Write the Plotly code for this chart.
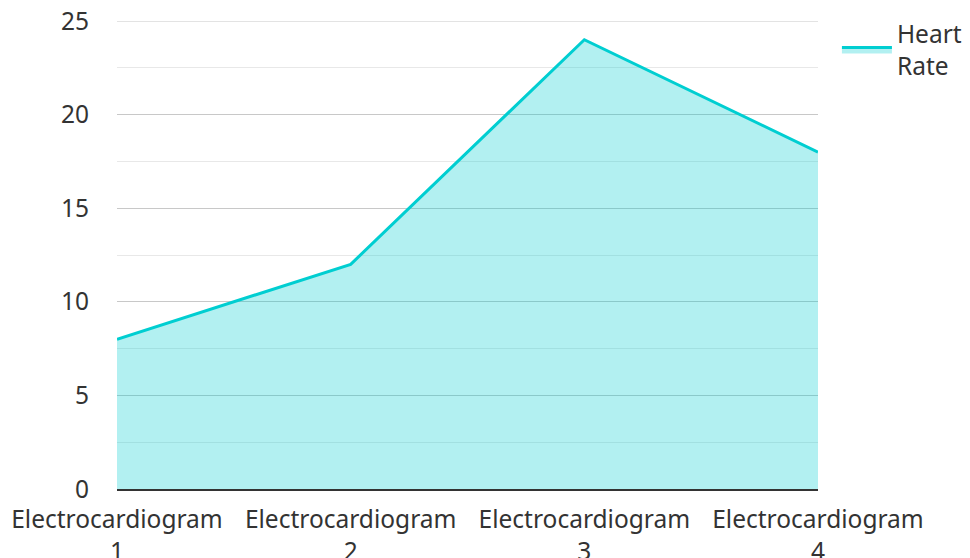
import plotly.graph_objects as go

categories = ["Electrocardiogram<br>1", "Electrocardiogram<br>2", "Electrocardiogram<br>3", "Electrocardiogram<br>4"]
heart_rate = [8, 12, 24, 18]
series_name = "Heart<br>Rate"
y_ticks = [0, 5, 10, 15, 20, 25]

FS = 24.5
GRID = "#c8c8c8"

fig = go.Figure()
fig.add_trace(go.Scatter(
    x=categories, y=heart_rate, name=series_name,
    mode="lines", fill="tozeroy",
    line=dict(color="#00CED1", width=3),
    fillcolor="rgba(0,206,209,0.3)",
))

# plotly drops the gridline at the top edge of the range; draw it as a gridline-styled rule
fig.add_hline(y=y_ticks[-1], line=dict(color=GRID, width=1), layer="below")

# page body has an 8px default margin; compensate so the plot lands where the reference has it
fig.update_layout(
    width=962, height=550,
    margin=dict(l=109, r=152, t=13, b=69, autoexpand=False),
    paper_bgcolor="white", plot_bgcolor="white",
    font=dict(family="Noto Sans", size=FS, color="#333333"),
    showlegend=True,
    legend=dict(x=1.027, y=1.021, xanchor="left", yanchor="top",
                itemwidth=50,
                font=dict(size=FS, color="#333333"), traceorder="normal"),
)
fig.update_xaxes(
    type="category", range=[0, 3], showgrid=False, automargin=False,
    showline=True, linecolor="#333333", linewidth=2,
    ticks="", ticklabelstandoff=8, ticklabeloverflow="allow",
    tickfont=dict(size=FS, color="#333333"),
)
fig.update_yaxes(
    range=[0, 25], tickvals=y_ticks, showgrid=True, automargin=False,
    gridcolor=GRID, gridwidth=1, zeroline=False,
    ticks="", ticklabelstandoff=27, ticklabeloverflow="allow",
    tickfont=dict(size=FS, color="#333333"),
    minor=dict(dtick=2.5, tick0=0, showgrid=True, gridcolor="#e8e8e8", gridwidth=1),
)

fig.write_html("out.html")
